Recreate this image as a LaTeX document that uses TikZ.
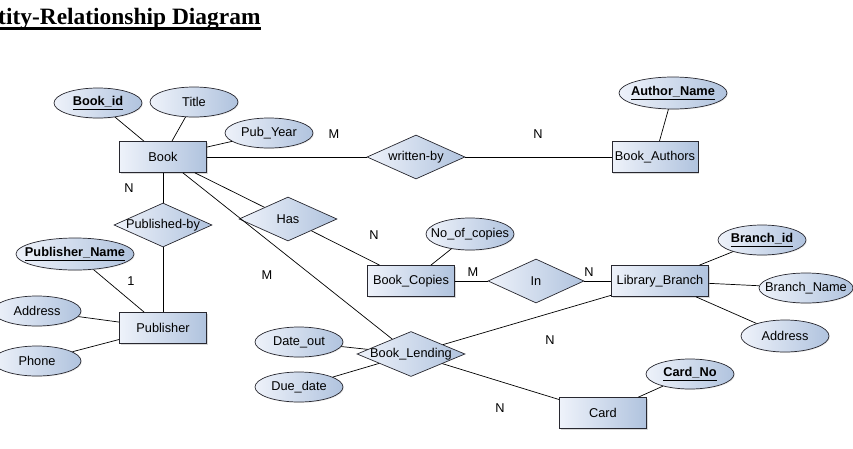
\documentclass[tikz,border=0pt]{standalone}
\usepackage{fontspec}
\setmainfont{Liberation Sans}
\newfontfamily\titlefont{Liberation Serif}
\usetikzlibrary{shapes.geometric,shadows}

\definecolor{erlight}{RGB}{238,242,250}
\definecolor{erdark}{RGB}{176,195,222}
\definecolor{erline}{RGB}{40,40,48}
% text that may stick out of its shape
\newcommand{\erbox}[1]{\makebox[0pt]{#1}}
\newcommand{\erkey}[1]{\textbf{\underline{#1}}}

\begin{document}
\begin{tikzpicture}[x=0.03cm, y=-0.03cm,
    every node/.style={font=\fontsize{10.9}{13}\selectfont},
    erfill/.style={left color=erlight, right color=erdark, draw=erline, line width=0.6pt},
    entity/.style={erfill, rectangle, minimum width=2.61cm, minimum height=0.93cm, inner sep=1pt,
        drop shadow={opacity=0.3, shadow xshift=1.2pt, shadow yshift=-1.2pt}},
    relation/.style={erfill, diamond, minimum width=2.94cm, minimum height=1.32cm, inner sep=0pt},
    attribute/.style={erfill, ellipse, minimum width=2.64cm, minimum height=0.9cm, inner sep=0pt,
        drop shadow={opacity=0.15, shadow xshift=0.8pt, shadow yshift=-0.8pt}},
    card/.style={inner sep=0pt},
    link/.style={line width=0.6pt}]
\useasboundingbox (0,0) rectangle (853,448);

    \node [anchor=base west, inner sep=0pt, font=\titlefont\bfseries\fontsize{20}{23}\selectfont] (heading) at (-2,24.5) {tity-Relationship Diagram};
\draw [line width=2.2pt] ([yshift=-3.4pt]heading.base west) -- ([yshift=-3.4pt]heading.base east);

% entities
\node [entity] (book) at (163,157) {Book};
\node [entity, minimum width=2.58cm] (authors) at (655,157) {Book\_Authors};
\node [entity] (copies) at (411,281) {Book\_Copies};
\node [entity, minimum width=2.91cm] (branch) at (660,281) {Library\_Branch};
\node [entity] (publisher) at (163,328) {Publisher};
\node [entity] (card) at (603,413) {Card};

% relationships
\node [relation] (writtenby) at (416,157) {\erbox{written-by}};
\node [relation] (publishedby) at (163,225) {\erbox{Published-by}};
\node [relation] (has) at (288,219) {\erbox{Has}};
\node [relation, minimum width=2.88cm] (inrel) at (536,281) {\erbox{In}};
\node [relation, minimum width=3.24cm, minimum height=1.35cm] (lending) at (411,354) {\erbox{Book\_Lending}};

% attributes
\node [attribute] (bookid) at (98,103) {\erbox{\erkey{Book\_id}}};
\node [attribute] (title) at (194,102) {\erbox{Title}};
\node [attribute] (pubyear) at (269,133) {\erbox{Pub\_Year}};
\node [attribute, minimum width=3.24cm, minimum height=0.96cm] (authorname) at (673,93) {\erbox{\erkey{Author\_Name}}};
\node [attribute, minimum width=3.54cm, minimum height=0.96cm] (pubname) at (75,254) {\erbox{\erkey{Publisher\_Name}}};
\node [attribute] (pubaddress) at (37,311) {\erbox{Address}};
\node [attribute] (phone) at (37,361) {\erbox{Phone}};
\node [attribute, minimum height=0.96cm] (copiesno) at (470,234) {\erbox{No\_of\_copies}};
\node [attribute] (branchid) at (762,240) {\erbox{\erkey{Branch\_id}}};
\node [attribute, minimum width=2.82cm] (branchname) at (806,288) {\erbox{Branch\_Name}};
\node [attribute, minimum height=0.96cm] (branchaddress) at (785,336) {\erbox{Address}};
\node [attribute] (cardno) at (690,374) {\erbox{\erkey{Card\_No}}};
\node [attribute] (dateout) at (299,342) {\erbox{Date\_out}};
\node [attribute] (duedate) at (299,387) {\erbox{Due\_date}};

% cardinalities
\node [card] (bookm) at (334,134) {M};
\node [card] (authorsn) at (538,134) {N};
\node [card] (bookn) at (129,188) {N};
\node [card] (publisherone) at (131,281) {1};
\node [card] (copiesn) at (374,235) {N};
\node [card] (lendingm) at (267,275) {M};
\node [card] (copiesm) at (473,272) {M};
\node [card] (branchn) at (589,272) {N};
\node [card] (lendingn) at (550,340) {N};
\node [card] (cardn) at (500,408) {N};

\draw [link] (bookid) -- (book);
\draw [link] (title) -- (book);
\draw [link] (pubyear) -- (book);
\draw [link] (book) -- (writtenby);
\draw [link] (writtenby) -- (authors);
\draw [link] (authorname) -- (authors);
\draw [link] (book) -- (publishedby);
\draw [link] (publishedby) -- (publisher);
\draw [link] (pubname) -- (publisher);
\draw [link] (pubaddress) -- (publisher);
\draw [link] (phone) -- (publisher);
\draw [link] (book) -- (has);
\draw [link] (has) -- (copies);
\draw [link] (copiesno) -- (copies);
\draw [link] (copies) -- (inrel);
\draw [link] (inrel) -- (branch);
\draw [link] (branchid) -- (branch);
\draw [link] (branchname) -- (branch);
\draw [link] (branchaddress) -- (branch);
\draw [link] (book) -- (lending);
\draw [link] (branch) -- (lending);
\draw [link] (lending) -- (card);
\draw [link] (dateout) -- (lending);
\draw [link] (duedate) -- (lending);
\draw [link] (cardno) -- (card);
\end{tikzpicture}
\end{document}
